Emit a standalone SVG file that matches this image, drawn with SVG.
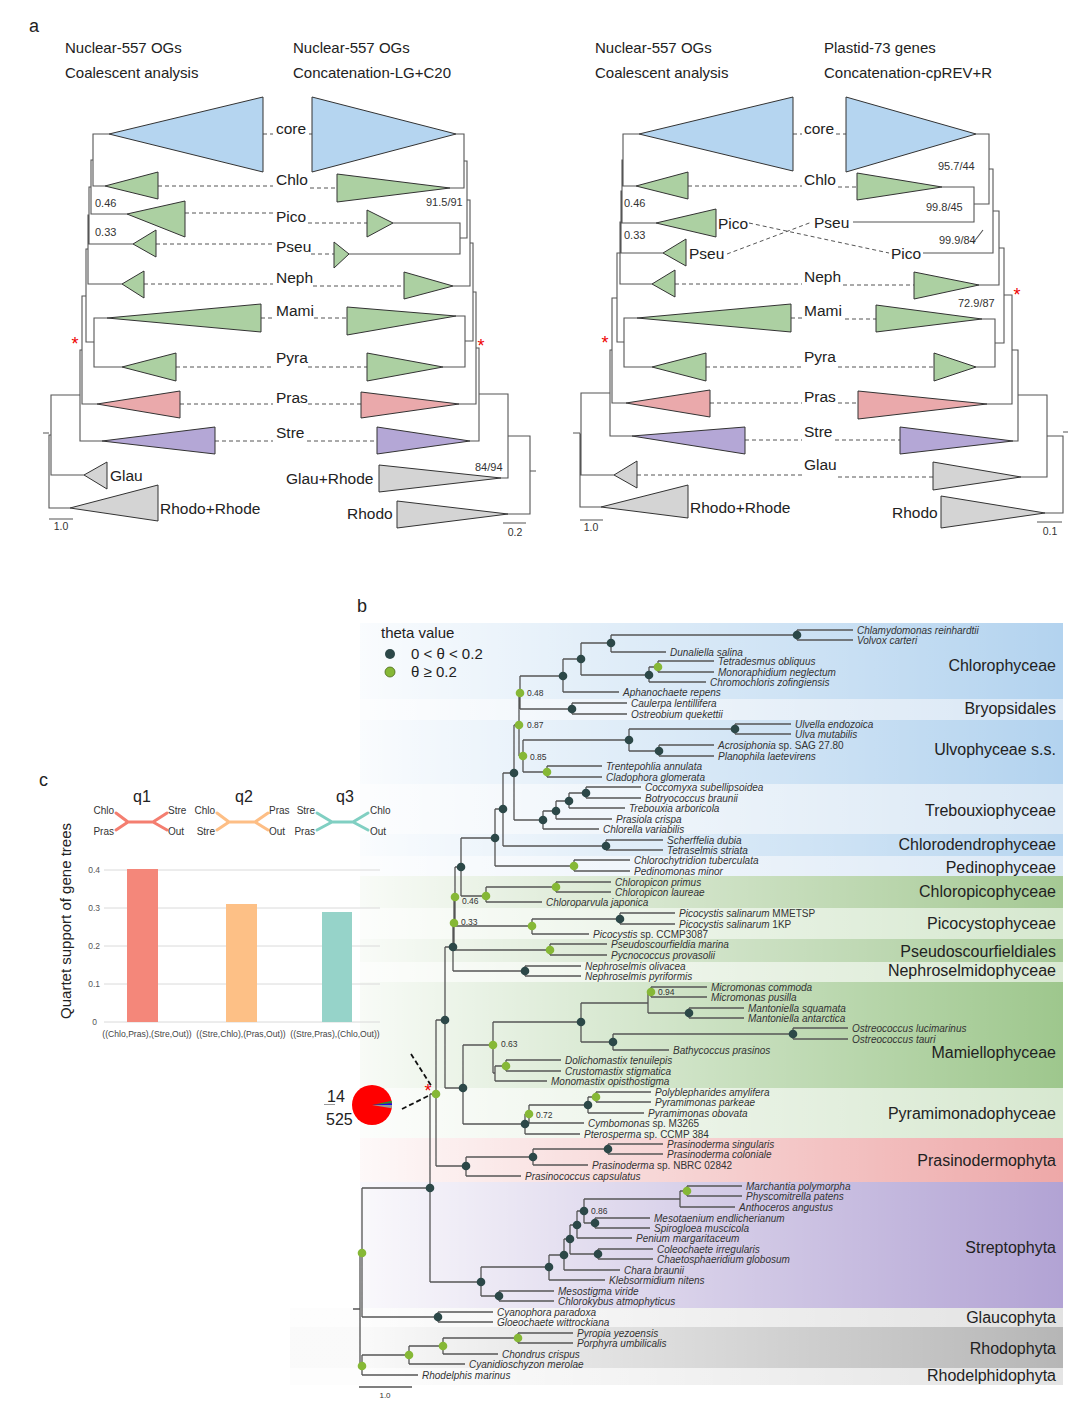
<svg xmlns="http://www.w3.org/2000/svg" width="1080" height="1404" viewBox="0 0 1080 1404">
<defs>
<style>
text{font-family:"Liberation Sans",Arial,sans-serif;fill:#222}
.pl{font-size:18px}
.ti{font-size:15px}
.lab{font-size:15.5px}
.bs{font-size:11px;fill:#333}
.sc{font-size:10.5px;fill:#333;text-anchor:middle}
.tl{fill:none;stroke:#555;stroke-width:1.1}
.ds{fill:none;stroke:#555;stroke-width:1;stroke-dasharray:4,3}
.tri{stroke:#333;stroke-width:1}
.bl{fill:#b5d5f0}.gr{fill:#acd0a2}.pk{fill:#eaa9ab}.pu{fill:#b4a7d6}.gy{fill:#d4d4d4}
.star{fill:#e00;font-size:18px;text-anchor:middle}
.sp{font-size:10px;font-style:italic;fill:#333}
.up{font-style:normal}
.bt{fill:none;stroke:#555;stroke-width:1.3}
.dd{fill:#2c4848}.gd{fill:#86b836}
.ns{font-size:8.5px;fill:#333}
.band{font-size:16px;text-anchor:end;fill:#222}
.q{fill:none;stroke-width:3;stroke-linecap:round;stroke-linejoin:round}
.ql{font-size:10px;fill:#333}
.ax{font-size:8.5px;fill:#555;text-anchor:end}
.xl{font-size:8.6px;fill:#444;text-anchor:middle}
</style>
<linearGradient id="fade" gradientUnits="userSpaceOnUse" x1="360" y1="0" x2="1063" y2="0">
<stop offset="0" stop-color="#fff" stop-opacity="0.93"/>
<stop offset="1" stop-color="#fff" stop-opacity="0"/>
</linearGradient>
</defs>
<rect width="1080" height="1404" fill="#fff"/>

<!-- ================= PANEL A ================= -->
<g id="panel-a">
<text class="pl" x="29" y="32">a</text>
<g id="titles-a">
<text class="ti" x="65" y="53">Nuclear-557 OGs</text>
<text class="ti" x="65" y="78">Coalescent analysis</text>
<text class="ti" x="293" y="53">Nuclear-557 OGs</text>
<text class="ti" x="293" y="78">Concatenation-LG+C20</text>
<text class="ti" x="595" y="53">Nuclear-557 OGs</text>
<text class="ti" x="595" y="78">Coalescent analysis</text>
<text class="ti" x="824" y="53">Plastid-73 genes</text>
<text class="ti" x="824" y="78">Concatenation-cpREV+R</text>
</g>

<!-- left pair: tree branches -->
<g id="a1-connectors">
<path class="tl" d="M109,134 H93 V186 H105 M93,160 H91 V214 H127 M91,187 H89 V244 H133 M89,215 H88 V284 H122 M107,318 H94 V367 H122 M88,249 H86 V342 H94 M86,296 H82 V404 H97 M82,350 H80 V441 H102 M80,395 H51 V475 H84 M51,435 H49 V508 H70 M43,433 H49"/>
<path class="tl" d="M456,134 H464 V188 H450 M393,223 H460 V254 H349 M464,161 H467 V238 H460 M467,200 H470 V286 H453 M456,316 H465 V367 H443 M470,243 H473 V341 H465 M473,292 H476 V404 H459 M476,348 H479 V441 H470 M479,394 H508 V478 H501 M508,436 H530 V514 H508 M530,471 H536"/>
<path class="ds" d="M263,134 H273 M309,134 H312 M158,186 H273 M310,188 H337 M185,213 H273 M308,223 H367 M156,244 H273 M311,254 H334 M144,284 H273 M313,286 H404 M261,318 H273 M314,318 H347 M176,367 H273 M308,367 H367 M180,404 H273 M308,404 H361 M215,441 H273 M307,441 H377"/>
</g>
<g id="a1-core"><polygon class="tri bl" points="109,134 263,97 263,172"/><polygon class="tri bl" points="456,134 312,97 312,172"/><text class="lab" x="276" y="134">core</text></g>
<g id="a1-chlo"><polygon class="tri gr" points="105,186 158,172 158,199"/><polygon class="tri gr" points="450,188 337,174 337,202"/><text class="lab" x="276" y="185">Chlo</text></g>
<g id="a1-pico"><polygon class="tri gr" points="127,214 185,201 185,237"/><polygon class="tri gr" points="393,223 367,210 367,237"/><text class="lab" x="276" y="222">Pico</text></g>
<g id="a1-pseu"><polygon class="tri gr" points="133,244 156,230 156,257"/><polygon class="tri gr" points="349,254 334,242 334,268"/><text class="lab" x="276" y="252">Pseu</text></g>
<g id="a1-neph"><polygon class="tri gr" points="122,284 144,271 144,298"/><polygon class="tri gr" points="453,286 404,272 404,299"/><text class="lab" x="276" y="283">Neph</text></g>
<g id="a1-mami"><polygon class="tri gr" points="107,318 261,304 261,332"/><polygon class="tri gr" points="456,316 347,307 347,335"/><text class="lab" x="276" y="316">Mami</text></g>
<g id="a1-pyra"><polygon class="tri gr" points="122,367 176,353 176,381"/><polygon class="tri gr" points="443,367 367,353 367,381"/><text class="lab" x="276" y="363">Pyra</text></g>
<g id="a1-pras"><polygon class="tri pk" points="97,404 180,391 180,418"/><polygon class="tri pk" points="459,404 361,392 361,418"/><text class="lab" x="276" y="403">Pras</text></g>
<g id="a1-stre"><polygon class="tri pu" points="102,441 215,427 215,454"/><polygon class="tri pu" points="470,441 377,427 377,454"/><text class="lab" x="276" y="438">Stre</text></g>
<g id="a1-glau"><polygon class="tri gy" points="84,475 107,462 107,489"/><text class="lab" x="110" y="481">Glau</text></g>
<g id="a1-rhodorhode"><polygon class="tri gy" points="70,508 158,485 158,521"/><text class="lab" x="160" y="514">Rhodo+Rhode</text></g>
<g id="a1-glaurhode"><polygon class="tri gy" points="501,478 379,465 379,492"/><text class="lab" x="286" y="484">Glau+Rhode</text></g>
<g id="a1-rhodo"><polygon class="tri gy" points="508,514 397,501 397,528"/><text class="lab" x="347" y="519">Rhodo</text></g>
<g id="a1-support">
<text class="bs" x="95" y="207">0.46</text>
<text class="bs" x="95" y="236">0.33</text>
<text class="bs" x="426" y="206">91.5/91</text>
<text class="bs" x="475" y="471">84/94</text>
<text class="star" x="75" y="350">*</text>
<text class="star" x="481" y="352">*</text>
</g>
<g id="a1-scales">
<path class="tl" d="M49,519 H73 M503,523 H526"/>
<text class="sc" x="61" y="530">1.0</text>
<text class="sc" x="515" y="536">0.2</text>
</g>

<!-- right pair -->
<g id="a2-connectors">
<path class="tl" d="M639,134 H623 V186 H636 M623,160 H622 V223 H656 M622,191 H621 V253 H663 M621,222 H620 V284 H652 M637,318 H624 V367 H652 M620,253 H617 V342 H624 M617,298 H612 V403 H626 M612,350 H610 V436 H632 M610,393 H581 V475 H614 M581,434 H580 V507 H601 M573,433 H580"/>
<path class="tl" d="M942,187 H974 V222 H853 M976,134 H989 V204 H974 M989,169 H993 V253 H923 M993,211 H999 V285 H979 M982,319 H995 V367 H976 M999,248 H1004 V343 H995 M1004,295 H1012 V404 H987 M1012,350 H1018 V441 H1013 M1018,395 H1047 V477 H1021 M1047,436 H1063 V513 H1045 M1063,432 H1068 M973,243 L983,230"/>
<path class="ds" d="M793,134 H802 M836,134 H846 M688,186 H802 M838,187 H857 M675,284 H802 M843,285 H914 M791,318 H802 M845,319 H876 M706,367 H802 M838,367 H934 M710,403 H802 M838,403 H858 M745,440 H802 M835,440 H900 M637,475 H802 M838,477 H933 M749,223 L889,253 M727,254 L812,222"/>
</g>
<g id="a2-core"><polygon class="tri bl" points="639,134 793,97 793,171"/><polygon class="tri bl" points="976,134 846,97 846,172"/><text class="lab" x="804" y="134">core</text></g>
<g id="a2-chlo"><polygon class="tri gr" points="636,186 688,172 688,199"/><polygon class="tri gr" points="942,187 857,173 857,200"/><text class="lab" x="804" y="185">Chlo</text></g>
<g id="a2-pico"><polygon class="tri gr" points="656,223 716,209 716,237"/><text class="lab" x="718" y="229">Pico</text><text class="lab" x="891" y="259">Pico</text></g>
<g id="a2-pseu"><polygon class="tri gr" points="663,253 686,239 686,266"/><text class="lab" x="689" y="259">Pseu</text><text class="lab" x="814" y="228">Pseu</text></g>
<g id="a2-neph"><polygon class="tri gr" points="652,284 675,270 675,297"/><polygon class="tri gr" points="979,285 914,272 914,299"/><text class="lab" x="804" y="282">Neph</text></g>
<g id="a2-mami"><polygon class="tri gr" points="637,318 791,304 791,332"/><polygon class="tri gr" points="982,319 876,305 876,332"/><text class="lab" x="804" y="316">Mami</text></g>
<g id="a2-pyra"><polygon class="tri gr" points="652,367 706,353 706,381"/><polygon class="tri gr" points="976,367 934,353 934,381"/><text class="lab" x="804" y="362">Pyra</text></g>
<g id="a2-pras"><polygon class="tri pk" points="626,403 710,390 710,417"/><polygon class="tri pk" points="987,404 858,391 858,419"/><text class="lab" x="804" y="402">Pras</text></g>
<g id="a2-stre"><polygon class="tri pu" points="632,436 745,427 745,454"/><polygon class="tri pu" points="1013,441 900,427 900,454"/><text class="lab" x="804" y="437">Stre</text></g>
<g id="a2-glau"><polygon class="tri gy" points="614,475 637,461 637,488"/><polygon class="tri gy" points="1021,477 933,462 933,490"/><text class="lab" x="804" y="470">Glau</text></g>
<g id="a2-rhodorhode"><polygon class="tri gy" points="601,507 688,485 688,518"/><text class="lab" x="690" y="513">Rhodo+Rhode</text></g>
<g id="a2-rhodo"><polygon class="tri gy" points="1045,513 941,496 941,528"/><text class="lab" x="892" y="518">Rhodo</text></g>
<g id="a2-support">
<text class="bs" x="624" y="207">0.46</text>
<text class="bs" x="624" y="239">0.33</text>
<text class="bs" x="938" y="170">95.7/44</text>
<text class="bs" x="926" y="211">99.8/45</text>
<text class="bs" x="939" y="244">99.9/84</text>
<text class="bs" x="958" y="307">72.9/87</text>
<text class="star" x="605" y="349">*</text>
<text class="star" x="1017" y="301">*</text>
</g>
<g id="a2-scales">
<path class="tl" d="M580,520 H603 M1037,522 H1062"/>
<text class="sc" x="591" y="531">1.0</text>
<text class="sc" x="1050" y="535">0.1</text>
</g>
</g>

<!-- ================= PANEL B ================= -->
<g id="panel-b">
<text class="pl" x="357" y="612">b</text>
<g id="bands">
<rect x="360" y="623" width="703" height="76" fill="#b3d3ef"/>
<rect x="360" y="699" width="703" height="21" fill="#d9e7f5"/>
<rect x="360" y="720" width="703" height="64" fill="#b3d3ef"/>
<rect x="360" y="784" width="703" height="50" fill="#dae8f5"/>
<rect x="360" y="834" width="703" height="22" fill="#b8d6f0"/>
<rect x="360" y="856" width="703" height="20" fill="#dce9f6"/>
<rect x="360" y="876" width="703" height="32" fill="#a5c994"/>
<rect x="360" y="908" width="703" height="31" fill="#d6e8cf"/>
<rect x="360" y="939" width="703" height="23" fill="#a8cb99"/>
<rect x="360" y="962" width="703" height="20" fill="#d9e9d2"/>
<rect x="360" y="982" width="703" height="106" fill="#9ec78d"/>
<rect x="360" y="1088" width="703" height="50" fill="#d7e8d0"/>
<rect x="360" y="1138" width="703" height="44" fill="#eea8a8"/>
<rect x="360" y="1182" width="703" height="126" fill="#b2a3d4"/>
<rect x="290" y="1308" width="773" height="19" fill="#e2e2e2"/>
<rect x="290" y="1327" width="773" height="41" fill="#b6b6b6"/>
<rect x="290" y="1368" width="773" height="17" fill="#e4e4e4"/>
<rect x="290" y="623" width="773" height="762" fill="url(#fade)"/>
<rect x="290" y="623" width="70" height="685" fill="#fff"/>
</g>
<g id="band-labels">
<text class="band" x="1056" y="671">Chlorophyceae</text>
<text class="band" x="1056" y="714">Bryopsidales</text>
<text class="band" x="1056" y="755">Ulvophyceae s.s.</text>
<text class="band" x="1056" y="816">Trebouxiophyceae</text>
<text class="band" x="1056" y="850">Chlorodendrophyceae</text>
<text class="band" x="1056" y="873">Pedinophyceae</text>
<text class="band" x="1056" y="897">Chloropicophyceae</text>
<text class="band" x="1056" y="929">Picocystophyceae</text>
<text class="band" x="1056" y="957">Pseudoscourfieldiales</text>
<text class="band" x="1056" y="976">Nephroselmidophyceae</text>
<text class="band" x="1056" y="1058">Mamiellophyceae</text>
<text class="band" x="1056" y="1119">Pyramimonadophyceae</text>
<text class="band" x="1056" y="1166">Prasinodermophyta</text>
<text class="band" x="1056" y="1253">Streptophyta</text>
<text class="band" x="1056" y="1323">Glaucophyta</text>
<text class="band" x="1056" y="1354">Rhodophyta</text>
<text class="band" x="1056" y="1381">Rhodelphidophyta</text>
</g>
<g id="legend">
<text x="381" y="638" style="font-size:15px">theta value</text>
<circle cx="390" cy="654" r="5" class="dd"/>
<circle cx="390" cy="672" r="5" class="gd" stroke="#4a6a1a" stroke-width="0.8"/>
<text x="411" y="659" style="font-size:15px">0 &lt; θ &lt; 0.2</text>
<text x="411" y="677" style="font-size:15px">θ ≥ 0.2</text>
</g>
<g id="b-connectors">
<path class="bt" d="M797,630 V640 M797,630 H853 M797,640 H853
M611,635 V652 M611,635 H797 M611,652 H666
M658,661 V672 M658,661 H714 M658,672 H714
M649,667 V682 M649,667 H658 M649,682 H706
M581,643 V675 M581,643 H611 M581,675 H649
M563,659 V692 M563,659 H581 M563,692 H619
M572,703 V714 M572,703 H627 M572,714 H627
M520,676 V709 M520,676 H563 M520,709 H572
M735,724 V734 M735,724 H791 M735,734 H791
M659,745 V756 M659,745 H714 M659,756 H714
M629,729 V751 M629,729 H735 M629,751 H659
M547,766 V777 M547,766 H602 M547,777 H602
M523,740 V772 M523,740 H629 M523,772 H547
M519,693 V756 M519,693 H520 M519,756 H523
M586,787 V798 M586,787 H641 M586,798 H641
M569,793 V808 M569,793 H586 M569,808 H625
M556,801 V819 M556,801 H569 M556,819 H612
M543,811 V829 M543,811 H556 M543,829 H599
M514,725 V820 M514,725 H519 M514,820 H543
M606,840 V850 M606,840 H663 M606,850 H663
M503,773 V846 M503,773 H514 M503,846 H606
M574,860 V871 M574,860 H630 M574,871 H630
M495,809 V866 M495,809 H503 M495,866 H574
M556,882 V892 M556,882 H611 M556,892 H611
M486,887 V902 M486,887 H556 M486,902 H542
M461,838 V896 M461,838 H495 M461,896 H486
M620,913 V924 M620,913 H675 M620,924 H675
M532,919 V934 M532,919 H620 M532,934 H589
M455,867 V926 M455,867 H461 M455,926 H532
M550,944 V955 M550,944 H607 M550,955 H607
M454,897 V950 M454,897 H455 M454,950 H550
M525,966 V976 M525,966 H581 M525,976 H581
M453,923 V971 M453,923 H454 M453,971 H525
M651,987 V997 M651,987 H707 M651,997 H707
M689,1008 V1018 M689,1008 H744 M689,1018 H744
M648,992 V1013 M648,992 H651 M648,1013 H689
M793,1028 V1039 M793,1028 H848 M793,1039 H848
M613,1034 V1050 M613,1034 H793 M613,1050 H669
M581,1003 V1042 M581,1003 H648 M581,1042 H613
M506,1060 V1071 M506,1060 H561 M506,1071 H561
M495,1066 V1081 M495,1066 H506 M495,1081 H547
M493,1022 V1073 M493,1022 H581 M493,1073 H495
M596,1092 V1102 M596,1092 H651 M596,1102 H651
M588,1097 V1113 M588,1097 H596 M588,1113 H644
M529,1105 V1123 M529,1105 H588 M529,1123 H584
M525,1114 V1134 M525,1114 H529 M525,1134 H580
M463,1045 V1124 M463,1045 H493 M463,1124 H525
M445,947 V1088 M445,947 H453 M445,1088 H463
M608,1144 V1154 M608,1144 H663 M608,1154 H663
M533,1149 V1165 M533,1149 H608 M533,1165 H588
M466,1157 V1176 M466,1157 H533 M466,1176 H521
M436,1020 V1166 M436,1020 H445 M436,1166 H466
M687,1186 V1196 M687,1186 H742 M687,1196 H742
M680,1191 V1207 M680,1191 H687 M680,1207 H735
M595,1218 V1228 M595,1218 H650 M595,1228 H650
M584,1199 V1223 M584,1199 H680 M584,1223 H595
M577,1211 V1238 M577,1211 H584 M577,1238 H632
M598,1249 V1259 M598,1249 H653 M598,1259 H653
M570,1225 V1254 M570,1225 H577 M570,1254 H598
M564,1239 V1270 M564,1239 H570 M564,1270 H620
M549,1255 V1280 M549,1255 H564 M549,1280 H605
M499,1291 V1301 M499,1291 H554 M499,1301 H554
M481,1267 V1296 M481,1267 H549 M481,1296 H499
M430,1094 V1282 M430,1094 H436 M430,1282 H481
M438,1312 V1322 M438,1312 H493 M438,1322 H493
M362,1188 V1317 M362,1188 H430 M362,1317 H438
M518,1333 V1343 M518,1333 H573 M518,1343 H573
M443,1338 V1354 M443,1338 H518 M443,1354 H498
M409,1346 V1364 M409,1346 H443 M409,1364 H465
M362,1355 V1375 M362,1355 H409 M362,1375 H418
M360,1253 V1366 M360,1253 H362 M360,1366 H362 M353,1309 H360"/>
<path fill="none" stroke="#111" stroke-width="1.8" stroke-dasharray="5,3" d="M411,1054 L432,1087 M402,1109 L430,1095"/>
<path class="bt" d="M359,1387 H412"/>
<text x="385" y="1398" style="font-size:8px;text-anchor:middle;fill:#333">1.0</text>
</g>
<g id="b-nodes">
<g class="dd">
<circle cx="797" cy="635" r="4.3"/><circle cx="611" cy="643" r="4.3"/><circle cx="649" cy="675" r="4.3"/><circle cx="581" cy="659" r="4.3"/><circle cx="563" cy="676" r="4.3"/><circle cx="572" cy="709" r="4.3"/><circle cx="735" cy="729" r="4.3"/><circle cx="659" cy="751" r="4.3"/><circle cx="629" cy="740" r="4.3"/><circle cx="586" cy="793" r="4.3"/><circle cx="569" cy="801" r="4.3"/><circle cx="556" cy="811" r="4.3"/><circle cx="543" cy="820" r="4.3"/><circle cx="514" cy="773" r="4.3"/><circle cx="606" cy="846" r="4.3"/><circle cx="503" cy="809" r="4.3"/><circle cx="495" cy="838" r="4.3"/><circle cx="461" cy="867" r="4.3"/><circle cx="620" cy="919" r="4.3"/><circle cx="525" cy="971" r="4.3"/><circle cx="453" cy="947" r="4.3"/><circle cx="689" cy="1013" r="4.3"/><circle cx="793" cy="1034" r="4.3"/><circle cx="613" cy="1042" r="4.3"/><circle cx="581" cy="1022" r="4.3"/><circle cx="525" cy="1124" r="4.3"/><circle cx="588" cy="1105" r="4.3"/><circle cx="463" cy="1088" r="4.3"/><circle cx="445" cy="1020" r="4.3"/><circle cx="608" cy="1149" r="4.3"/><circle cx="533" cy="1157" r="4.3"/><circle cx="466" cy="1166" r="4.3"/><circle cx="595" cy="1223" r="4.3"/><circle cx="584" cy="1211" r="4.3"/><circle cx="577" cy="1225" r="4.3"/><circle cx="598" cy="1254" r="4.3"/><circle cx="570" cy="1239" r="4.3"/><circle cx="564" cy="1255" r="4.3"/><circle cx="549" cy="1267" r="4.3"/><circle cx="499" cy="1296" r="4.3"/><circle cx="481" cy="1282" r="4.3"/><circle cx="430" cy="1188" r="4.3"/><circle cx="438" cy="1317" r="4.3"/>
</g>
<g class="gd">
<circle cx="658" cy="667" r="4.3"/><circle cx="520" cy="693" r="4.3"/><circle cx="519" cy="725" r="4.3"/><circle cx="523" cy="756" r="4.3"/><circle cx="547" cy="772" r="4.3"/><circle cx="574" cy="866" r="4.3"/><circle cx="556" cy="887" r="4.3"/><circle cx="486" cy="896" r="4.3"/><circle cx="532" cy="926" r="4.3"/><circle cx="455" cy="897" r="4.3"/><circle cx="550" cy="950" r="4.3"/><circle cx="454" cy="923" r="4.3"/><circle cx="651" cy="992" r="4.3"/><circle cx="506" cy="1066" r="4.3"/><circle cx="493" cy="1045" r="4.3"/><circle cx="596" cy="1097" r="4.3"/><circle cx="529" cy="1114" r="4.3"/><circle cx="436" cy="1094" r="4.3"/><circle cx="687" cy="1191" r="4.3"/><circle cx="362" cy="1253" r="4.3"/><circle cx="518" cy="1338" r="4.3"/><circle cx="443" cy="1346" r="4.3"/><circle cx="409" cy="1355" r="4.3"/><circle cx="362" cy="1366" r="4.3"/>
</g>
<text class="ns" x="527" y="696">0.48</text>
<text class="ns" x="527" y="728">0.87</text>
<text class="ns" x="530" y="760">0.85</text>
<text class="ns" x="462" y="904">0.46</text>
<text class="ns" x="461" y="925">0.33</text>
<text class="ns" x="658" y="995">0.94</text>
<text class="ns" x="501" y="1047">0.63</text>
<text class="ns" x="536" y="1118">0.72</text>
<text class="ns" x="591" y="1214">0.86</text>
</g>
<g id="b-leaves">
<text class="sp" x="857" y="633.5">Chlamydomonas reinhardtii</text>
<text class="sp" x="857" y="643.5">Volvox carteri</text>
<text class="sp" x="670" y="655.5">Dunaliella salina</text>
<text class="sp" x="718" y="664.5">Tetradesmus obliquus</text>
<text class="sp" x="718" y="675.5">Monoraphidium neglectum</text>
<text class="sp" x="710" y="685.5">Chromochloris zofingiensis</text>
<text class="sp" x="623" y="695.5">Aphanochaete repens</text>
<text class="sp" x="631" y="706.5">Caulerpa lentillifera</text>
<text class="sp" x="631" y="717.5">Ostreobium quekettii</text>
<text class="sp" x="795" y="727.5">Ulvella endozoica</text>
<text class="sp" x="795" y="737.5">Ulva mutabilis</text>
<text class="sp" x="718" y="748.5">Acrosiphonia<tspan class="up"> sp. SAG  27.80</tspan></text>
<text class="sp" x="718" y="759.5">Planophila laetevirens</text>
<text class="sp" x="606" y="769.5">Trentepohlia annulata</text>
<text class="sp" x="606" y="780.5">Cladophora glomerata</text>
<text class="sp" x="645" y="790.5">Coccomyxa subellipsoidea</text>
<text class="sp" x="645" y="801.5">Botryococcus braunii</text>
<text class="sp" x="629" y="811.5">Trebouxia arboricola</text>
<text class="sp" x="616" y="822.5">Prasiola crispa</text>
<text class="sp" x="603" y="832.5">Chlorella variabilis</text>
<text class="sp" x="667" y="843.5">Scherffelia dubia</text>
<text class="sp" x="667" y="853.5">Tetraselmis striata</text>
<text class="sp" x="634" y="863.5">Chlorochytridion tuberculata</text>
<text class="sp" x="634" y="874.5">Pedinomonas minor</text>
<text class="sp" x="615" y="885.5">Chloropicon primus</text>
<text class="sp" x="615" y="895.5">Chloropicon laureae</text>
<text class="sp" x="546" y="905.5">Chloroparvula japonica</text>
<text class="sp" x="679" y="916.5">Picocystis salinarum<tspan class="up"> MMETSP</tspan></text>
<text class="sp" x="679" y="927.5">Picocystis salinarum<tspan class="up">  1KP</tspan></text>
<text class="sp" x="593" y="937.5">Picocystis<tspan class="up"> sp. CCMP3087</tspan></text>
<text class="sp" x="611" y="947.5">Pseudoscourfieldia marina</text>
<text class="sp" x="611" y="958.5">Pycnococcus provasolii</text>
<text class="sp" x="585" y="969.5">Nephroselmis olivacea</text>
<text class="sp" x="585" y="979.5">Nephroselmis pyriformis</text>
<text class="sp" x="711" y="990.5">Micromonas commoda</text>
<text class="sp" x="711" y="1000.5">Micromonas pusilla</text>
<text class="sp" x="748" y="1011.5">Mantoniella squamata</text>
<text class="sp" x="748" y="1021.5">Mantoniella antarctica</text>
<text class="sp" x="852" y="1031.5">Ostreococcus lucimarinus</text>
<text class="sp" x="852" y="1042.5">Ostreococcus tauri</text>
<text class="sp" x="673" y="1053.5">Bathycoccus prasinos</text>
<text class="sp" x="565" y="1063.5">Dolichomastix tenuilepis</text>
<text class="sp" x="565" y="1074.5">Crustomastix stigmatica</text>
<text class="sp" x="551" y="1084.5">Monomastix opisthostigma</text>
<text class="sp" x="655" y="1095.5">Polyblepharides amylifera</text>
<text class="sp" x="655" y="1105.5">Pyramimonas parkeae</text>
<text class="sp" x="648" y="1116.5">Pyramimonas obovata</text>
<text class="sp" x="588" y="1126.5">Cymbomonas<tspan class="up"> sp. M3265</tspan></text>
<text class="sp" x="584" y="1137.5">Pterosperma<tspan class="up"> sp. CCMP 384</tspan></text>
<text class="sp" x="667" y="1147.5">Prasinoderma singularis</text>
<text class="sp" x="667" y="1157.5">Prasinoderma coloniale</text>
<text class="sp" x="592" y="1168.5">Prasinoderma<tspan class="up"> sp. NBRC 02842</tspan></text>
<text class="sp" x="525" y="1179.5">Prasinococcus capsulatus</text>
<text class="sp" x="746" y="1189.5">Marchantia polymorpha</text>
<text class="sp" x="746" y="1199.5">Physcomitrella patens</text>
<text class="sp" x="739" y="1210.5">Anthoceros angustus</text>
<text class="sp" x="654" y="1221.5">Mesotaenium endlicherianum</text>
<text class="sp" x="654" y="1231.5">Spirogloea muscicola</text>
<text class="sp" x="636" y="1241.5">Penium margaritaceum</text>
<text class="sp" x="657" y="1252.5">Coleochaete irregularis</text>
<text class="sp" x="657" y="1262.5">Chaetosphaeridium globosum</text>
<text class="sp" x="624" y="1273.5">Chara braunii</text>
<text class="sp" x="609" y="1283.5">Klebsormidium nitens</text>
<text class="sp" x="558" y="1294.5">Mesostigma viride</text>
<text class="sp" x="558" y="1304.5">Chlorokybus atmophyticus</text>
<text class="sp" x="497" y="1315.5">Cyanophora paradoxa</text>
<text class="sp" x="497" y="1325.5">Gloeochaete wittrockiana</text>
<text class="sp" x="577" y="1336.5">Pyropia yezoensis</text>
<text class="sp" x="577" y="1346.5">Porphyra umbilicalis</text>
<text class="sp" x="502" y="1357.5">Chondrus crispus</text>
<text class="sp" x="469" y="1367.5">Cyanidioschyzon merolae</text>
<text class="sp" x="422" y="1378.5">Rhodelphis marinus</text>
</g>
<g id="b-pie">
<circle cx="372" cy="1105" r="20" fill="#ff0000"/>
<path d="M372,1105 L391.56,1100.84 A20,20 0 0 1 391.92,1103.26 Z" fill="#2e8b2e"/>
<path d="M372,1105 L391.92,1103.26 A20,20 0 0 1 392,1105 Z" fill="#1010ee"/>
<path d="M372,1105 L392,1105 A20,20 0 0 1 391.75,1108.13 Z" fill="#999"/>
<text x="327" y="1102" style="font-size:16px">14</text>
<path d="M324,1104.5 H335" stroke="#999" stroke-width="1"/>
<text x="326" y="1125" style="font-size:16px">525</text>
<text class="star" x="428" y="1097">*</text>
</g>
</g>

<!-- ================= PANEL C ================= -->
<g id="panel-c">
<text class="pl" x="39" y="786">c</text>
<g id="q1">
<text x="142" y="802" style="font-size:16px;text-anchor:middle">q1</text>
<path class="q" stroke="#f47e70" d="M116,813 L128,822 H153 L167,813 M116,830 L128,822 M153,822 L167,830"/>
<text class="ql" x="114" y="813.5" text-anchor="end">Chlo</text>
<text class="ql" x="114" y="834.5" text-anchor="end">Pras</text>
<text class="ql" x="168" y="813.5">Stre</text>
<text class="ql" x="168" y="834.5">Out</text>
</g>
<g id="q2">
<text x="244" y="802" style="font-size:16px;text-anchor:middle">q2</text>
<path class="q" stroke="#fdbe85" d="M217,813 L229,822 H255 L268,813 M217,830 L229,822 M255,822 L268,830"/>
<text class="ql" x="215" y="813.5" text-anchor="end">Chlo</text>
<text class="ql" x="215" y="834.5" text-anchor="end">Stre</text>
<text class="ql" x="269" y="813.5">Pras</text>
<text class="ql" x="269" y="834.5">Out</text>
</g>
<g id="q3">
<text x="345" y="802" style="font-size:16px;text-anchor:middle">q3</text>
<path class="q" stroke="#80cfc2" d="M317,813 L332,822 H353 L368,813 M317,830 L332,822 M353,822 L368,830"/>
<text class="ql" x="315" y="813.5" text-anchor="end">Stre</text>
<text class="ql" x="315" y="834.5" text-anchor="end">Pras</text>
<text class="ql" x="370" y="813.5">Chlo</text>
<text class="ql" x="370" y="834.5">Out</text>
</g>
<g id="chart">
<path d="M104,870 H380 M104,908 H380 M104,946 H380 M104,984 H380 M104,1022 H380" stroke="#dadada" stroke-width="1"/>
<text class="ax" x="100" y="873">0.4</text>
<text class="ax" x="100" y="911">0.3</text>
<text class="ax" x="100" y="949">0.2</text>
<text class="ax" x="100" y="987">0.1</text>
<text class="ax" x="97" y="1025">0</text>
<rect x="127" y="869" width="31" height="153" fill="#f4877a"/>
<rect x="226" y="904" width="31" height="118" fill="#fdc086"/>
<rect x="322" y="912" width="30" height="110" fill="#96d3c9"/>
<text class="xl" x="147" y="1037">((Chlo,Pras),(Stre,Out))</text>
<text class="xl" x="241" y="1037">((Stre,Chlo),(Pras,Out))</text>
<text class="xl" x="335" y="1037">((Stre,Pras),(Chlo,Out))</text>
<text transform="translate(71,921) rotate(-90)" style="font-size:15px;text-anchor:middle">Quartet support of gene trees</text>
</g>
</g>
</svg>
